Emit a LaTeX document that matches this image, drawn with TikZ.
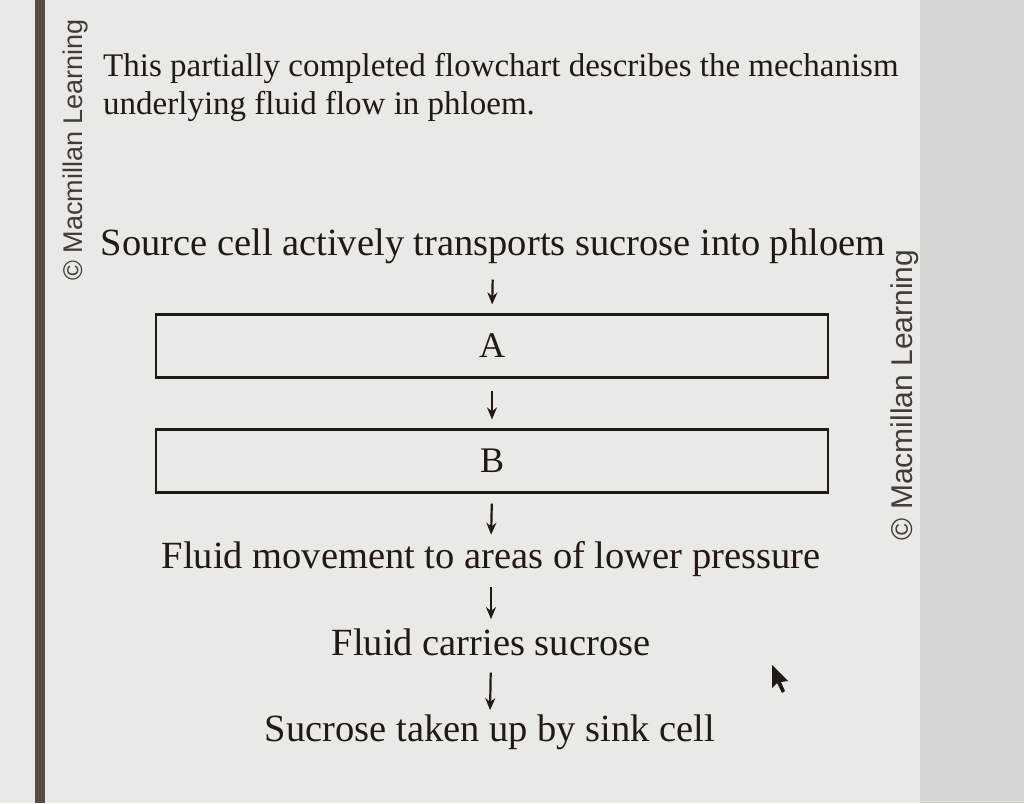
\documentclass[tikz,border=0pt]{standalone}
\usepackage{fontspec}
\setmainfont{Liberation Serif}
\newfontfamily\markfont{Liberation Sans}
\usetikzlibrary{arrows.meta}

\definecolor{screenbg}{RGB}{233,233,229}
\definecolor{edgebg}{RGB}{214,214,210}
\definecolor{ink}{RGB}{34,24,20}
\definecolor{bezel}{RGB}{88,76,66}

\begin{document}
\begin{tikzpicture}
    [
        x = 1pt, y = -1pt,
        every node/.append style = {text = ink, inner sep = 0},
        intro/.style = {font = \fontsize{33}{40}\selectfont, anchor = base west},
        stage/.style = {font = \fontsize{38.5}{44}\selectfont, anchor = base},
        blank/.style = {draw = ink, line width = 2.2pt, minimum width = 672pt, minimum height = 63pt, font = \fontsize{36}{40}\selectfont},
        flow/.style = {draw = ink, line width = 2.2pt, -{Stealth[length = 12pt, width = 10pt]}},
        watermark/.style = {rotate = 90, text = ink!85, font = \markfont\fontsize{#1}{#1}\selectfont}]

    % screen and its edges
    \fill [screenbg] (0, 0) rectangle (1024, 803);
    \fill [edgebg] (920, 0) rectangle (1024, 803);
    \fill [bezel] (35, 0) rectangle (45, 803);
    \useasboundingbox (0, 0) rectangle (1024, 803);

    \node [intro] (intro1) at (103, 76) {This partially completed flowchart describes the mechanism};
    \node [intro] (intro2) at (103, 114) {underlying fluid flow in phloem.};

    \node [stage] (source) at (493, 255) {Source cell actively transports sucrose into phloem};
    \node [blank] (stepA) at (492, 346) {A};
    \node [blank] (stepB) at (492, 461) {B};
    \node [stage] (move) at (491, 568) {Fluid movement to areas of lower pressure};
    \node [stage] (carry) at (491, 655) {Fluid carries sucrose};
    \node [stage] (sink) at (490, 741) {Sucrose taken up by sink cell};

    \draw [flow, shorten <= 16pt, shorten >= 9pt] (source.south) -- (stepA.north);
    \draw [flow, shorten <= 12pt, shorten >= 9pt] (stepA.south) -- (stepB.north);
    \draw [flow, shorten <= 10pt, shorten >= 6pt] (stepB.south) -- (move.north);
    \draw [flow, shorten <= 11pt, shorten >= 9pt] (move.south) -- (carry.north);
    \draw [flow, shorten <= 17pt, shorten >= 4pt] (carry.south) -- (sink.north);

    \node [watermark = 27] (markL) at (76, 150) {\textcopyright\ Macmillan Learning};
    \begin{scope}
        \clip (860, 0) rectangle (920, 803);
        \node [watermark = 30] (markR) at (905, 395) {\textcopyright\ Macmillan Learning};
    \end{scope}

    % mouse pointer
    \fill [ink] (772, 665) -- (772, 688) -- (777, 683) -- (782, 693) -- (785, 691) -- (781, 682) -- (788, 681) -- cycle;

\end{tikzpicture}
\end{document}
